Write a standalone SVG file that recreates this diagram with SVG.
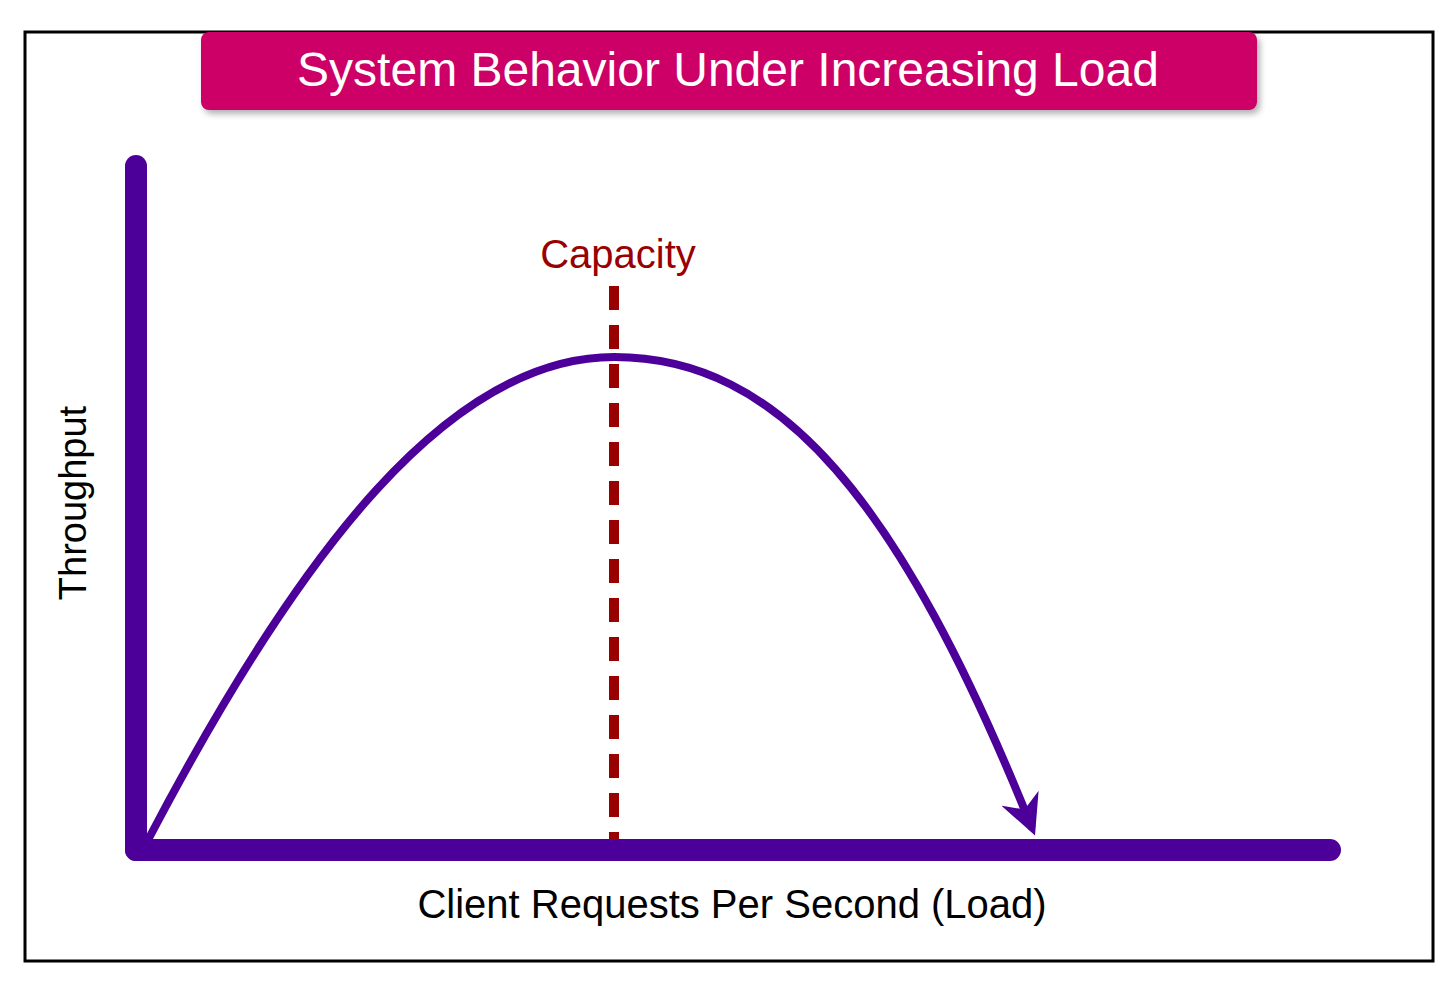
<svg xmlns="http://www.w3.org/2000/svg" width="1456" height="986" viewBox="0 0 1456 986">
<style>
text{font-family:"Liberation Sans",Arial,sans-serif}
.axis{stroke:#4c0099;stroke-width:22;stroke-linecap:round;fill:none}
</style>
<defs>
<filter id="sh" x="-5%" y="-20%" width="110%" height="150%"><feDropShadow dx="3" dy="4" stdDeviation="3" flood-opacity="0.3"/></filter>
<marker id="ah" viewBox="0 0 10 10" refX="8" refY="5" markerWidth="5" markerHeight="5" orient="auto" markerUnits="strokeWidth"><path d="M0,0 L10,5 L0,10 L3,5 Z" fill="#4c0099"/></marker>
</defs>
<rect x="0" y="0" width="1456" height="986" fill="#fff"/>
<rect x="25" y="32" width="1408" height="929" fill="none" stroke="#000" stroke-width="3"/>
<g id="title"><rect x="201" y="32" width="1056" height="78" rx="8" fill="#cc0066" filter="url(#sh)"/>
<text x="728" y="86" font-size="48" fill="#fff" text-anchor="middle">System Behavior Under Increasing Load</text></g>
<g id="axes"><line class="axis" x1="136" y1="166" x2="136" y2="850"/><line class="axis" x1="136" y1="850" x2="1330" y2="850"/></g>
<g id="connectors">
<line x1="614" y1="286" x2="614" y2="840" stroke="#990000" stroke-width="10" stroke-dasharray="24 15"/>
<path d="M148,840 C300,550 450,357 614,357 C780,357 900,500 1032,828" fill="none" stroke="#4c0099" stroke-width="8" marker-end="url(#ah)"/>
</g>
<g id="labels">
<text x="618" y="268" font-size="40" fill="#990000" text-anchor="middle">Capacity</text>
<text transform="translate(86,503) rotate(-90)" font-size="38" text-anchor="middle">Throughput</text>
<text x="732" y="918" font-size="40" text-anchor="middle">Client Requests Per Second (Load)</text>
</g>
</svg>
